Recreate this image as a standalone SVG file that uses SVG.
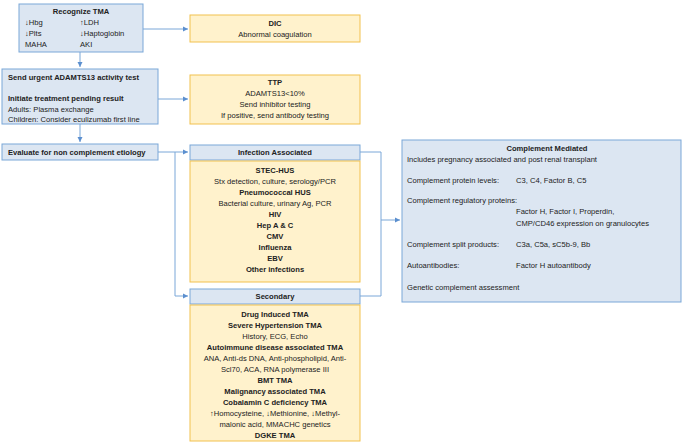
<svg xmlns="http://www.w3.org/2000/svg" width="685" height="445" viewBox="0 0 685 445">
<style>
text{font-family:"Liberation Sans",Arial,sans-serif;font-size:7.6px;fill:#222}
.b{font-weight:bold}
.m{text-anchor:middle}
.bl{fill:#dce6f2;stroke:#7aa7d8;stroke-width:1}
.yl{fill:#fff2cc;stroke:#f2c14e;stroke-width:1}
.c{fill:none;stroke:#7aa7d8;stroke-width:1}
</style>
<defs><marker id="a" markerWidth="6" markerHeight="6" refX="5" refY="3" orient="auto"><path d="M0,0.5 L5,3 L0,5.5z" fill="#5b8fcf"/></marker></defs>
<rect width="685" height="445" fill="#fff"/>
<g id="connectors">
<path class="c" d="M143,29 H188" marker-end="url(#a)"/>
<path class="c" d="M80,52 V67" marker-end="url(#a)"/>
<path class="c" d="M158,99 H188" marker-end="url(#a)"/>
<path class="c" d="M80,124 V142" marker-end="url(#a)"/>
<path class="c" d="M158,152 H188" marker-end="url(#a)"/>
<path class="c" d="M175,152 V296 H188" marker-end="url(#a)"/>
<path class="c" d="M360,152 H381 V296 H360"/>
<path class="c" d="M381,220 H400" marker-end="url(#a)"/>
</g>
<g id="tma"><rect class="bl" x="19" y="4" width="124" height="48"/>
<text class="b m" x="81" y="14">Recognize TMA</text>
<text x="25" y="25">↓Hbg</text><text x="80" y="25">↑LDH</text>
<text x="25" y="36">↓Plts</text><text x="80" y="36">↓Haptoglobin</text>
<text x="25" y="47">MAHA</text><text x="80" y="47">AKI</text></g>
<g id="dic"><rect class="yl" x="190" y="15" width="170" height="27"/>
<text class="b m" x="275" y="26">DIC</text><text class="m" x="275" y="37">Abnormal coagulation</text></g>
<g id="adamts"><rect class="bl" x="2" y="69" width="156" height="55"/>
<text class="b" x="8" y="80">Send urgent ADAMTS13 activity test</text>
<text class="b" x="8" y="101">Initiate treatment pending result</text>
<text x="8" y="112">Adults: Plasma exchange</text>
<text x="8" y="122">Children: Consider eculizumab first line</text></g>
<g id="ttp"><rect class="yl" x="190" y="75" width="170" height="49"/>
<text class="b m" x="275" y="85">TTP</text>
<text class="m" x="275" y="96">ADAMTS13&lt;10%</text>
<text class="m" x="275" y="107">Send inhibitor testing</text>
<text class="m" x="275" y="118">If positive, send antibody testing</text></g>
<g id="evaluate"><rect class="bl" x="2" y="144" width="156" height="16"/>
<text class="b" x="8" y="155">Evaluate for non complement etiology</text></g>
<g id="infection"><rect class="bl" x="190" y="145" width="170" height="15"/>
<text class="b m" x="275" y="155">Infection Associated</text>
<rect class="yl" x="190" y="161" width="170" height="121"/>
<text class="m" x="275" y="173"><tspan class="b">STEC-HUS</tspan><tspan x="275" dy="11">Stx detection, culture, serology/PCR</tspan><tspan x="275" dy="11" class="b">Pneumococcal  HUS</tspan><tspan x="275" dy="11">Bacterial culture, urinary Ag, PCR</tspan><tspan x="275" dy="11" class="b">HIV</tspan><tspan x="275" dy="11" class="b">Hep A &amp; C</tspan><tspan x="275" dy="11" class="b">CMV</tspan><tspan x="275" dy="11" class="b">Influenza</tspan><tspan x="275" dy="11" class="b">EBV</tspan><tspan x="275" dy="11" class="b">Other infections</tspan></text></g>
<g id="secondary"><rect class="bl" x="190" y="289" width="170" height="15"/>
<text class="b m" x="275" y="299">Secondary</text>
<rect class="yl" x="190" y="305" width="170" height="136"/>
<text class="m" x="275" y="317"><tspan class="b">Drug Induced TMA</tspan><tspan x="275" dy="11" class="b">Severe Hypertension TMA</tspan><tspan x="275" dy="11">History, ECG, Echo</tspan><tspan x="275" dy="11" class="b">Autoimmune disease associated TMA</tspan><tspan x="275" dy="11">ANA, Anti-ds DNA, Anti-phospholipid, Anti-</tspan><tspan x="275" dy="11">Scl70, ACA, RNA polymerase III</tspan><tspan x="275" dy="11" class="b">BMT TMA</tspan><tspan x="275" dy="11" class="b">Malignancy associated TMA</tspan><tspan x="275" dy="11" class="b">Cobalamin C deficiency TMA</tspan><tspan x="275" dy="11">↑Homocysteine, ↓Methionine, ↓Methyl-</tspan><tspan x="275" dy="11">malonic acid, MMACHC genetics</tspan><tspan x="275" dy="11" class="b">DGKE TMA</tspan></text></g>
<g id="complement"><rect class="bl" x="402" y="140" width="279" height="162"/>
<text class="b m" x="547" y="151">Complement Mediated</text>
<text x="407" y="162">Includes pregnancy associated and post renal transplant</text>
<text x="407" y="183">Complement protein levels:</text><text x="516" y="183">C3, C4, Factor B, C5</text>
<text x="407" y="203">Complement regulatory proteins:</text>
<text x="516" y="214">Factor H, Factor I, Properdin,</text>
<text x="516" y="226">CMP/CD46 expression on granulocytes</text>
<text x="407" y="247">Complement split products:</text><text x="516" y="247">C3a, C5a, sC5b-9, Bb</text>
<text x="407" y="268">Autoantibodies:</text><text x="516" y="268">Factor H autoantibody</text>
<text x="407" y="290">Genetic complement assessment</text></g>
</svg>
